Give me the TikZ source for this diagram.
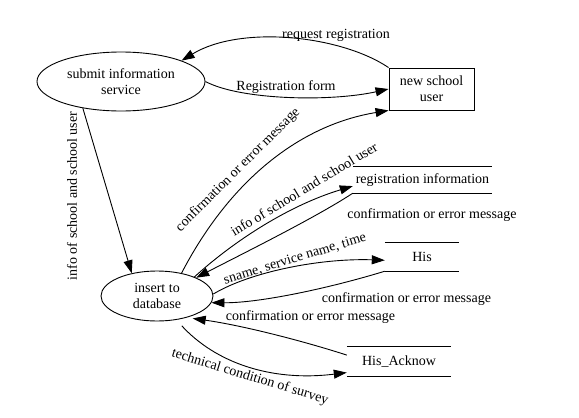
\documentclass[tikz,border=0pt]{standalone}
\usepackage{fontspec}
\setmainfont{Liberation Serif}
\usetikzlibrary{arrows.meta,shapes.geometric}
\begin{document}
\begin{tikzpicture}[x=1pt,y=-1pt,
  every node/.style={font=\fontsize{14}{16}\selectfont},
  proc/.style={draw, ellipse, line width=0.9pt, inner sep=0pt, align=center},
  ent/.style={draw, rectangle, line width=0.9pt, minimum width=85pt, minimum height=42pt, inner sep=0pt, align=center},
  store/.style={rectangle, inner sep=0pt},
  storeline/.style={line width=0.9pt},
  flow/.style={line width=0.9pt, -{Triangle[length=13pt,width=9pt]}},
  lbl/.style={inner sep=0pt}
]
\useasboundingbox (0,0) rectangle (579,418);

% nodes
\node[proc, minimum width=168pt, minimum height=59pt] (submit) at (121,81.5) {submit information\\service};
\node[ent] (user) at (431.5,89) {new school\\user};
\node[proc, minimum width=112pt, minimum height=50pt] (insert) at (157,296) {insert to\\database};
\node[store, minimum width=139pt, minimum height=26pt] (reg) at (422.5,180) {registration information};
\node[store, minimum width=74pt, minimum height=28pt] (his) at (422,257) {His\hspace{12pt}};
\node[store, minimum width=104pt, minimum height=29pt] (ack) at (399,361.5) {His\_Acknow\hspace{22pt}};
\foreach \s in {reg,his,ack}{
  \draw[storeline] (\s.north west) -- (\s.north east) (\s.south west) -- (\s.south east);
}

% flows
\draw[flow] (submit.215.6) -- (insert.138.4);
\draw[flow] (user.north west) .. controls (340,35) and (240,25) .. (submit.19.4);
\draw[flow] (submit.east) .. controls (240,100) and (330,102) .. (user.west);
\draw[flow] (insert.43.8) .. controls (230,180) and (300,125) .. (user.south west);
\draw[flow] (insert.27.5) .. controls (235,240) and (290,205) .. (reg.185.8);
\draw[flow] (reg.south west) .. controls (315,218) and (240,255) .. (insert.25.4);
\draw[flow] (insert.2) .. controls (250,272) and (320,258) .. (his.185);
\draw[flow] (his.south west) .. controls (330,288) and (260,303) .. (insert.-7.5);
\draw[flow, shorten >=6pt] (ack.173) .. controls (300,340) and (240,325) .. (insert.-36.6);
\draw[flow, shorten <=8pt] (insert.-51.8) .. controls (215,362) and (270,382) .. (ack.192);

% labels
\node[lbl, anchor=base] (l1) at (336,38) {request registration};
\node[lbl, anchor=base] (l2) at (286,90) {Registration form};
\node[lbl, rotate=90] (l3) at (72,196) {info of school and school user};
\node[lbl, rotate=45] (l4) at (238,170) {confirmation or error message};
\node[lbl, rotate=31] (l5) at (304,189) {info of school and school user};
\node[lbl, anchor=base] (l6) at (432,218) {confirmation or error message};
\node[lbl, rotate=17] (l7) at (295,259) {sname, service name, time};
\node[lbl, anchor=base] (l8) at (406.5,302.7) {confirmation or error message};
\node[lbl, anchor=base] (l9) at (310.5,320.7) {confirmation or error message};
\node[lbl, rotate=-17] (l10) at (250,377) {technical condition of survey};
\end{tikzpicture}
\end{document}
